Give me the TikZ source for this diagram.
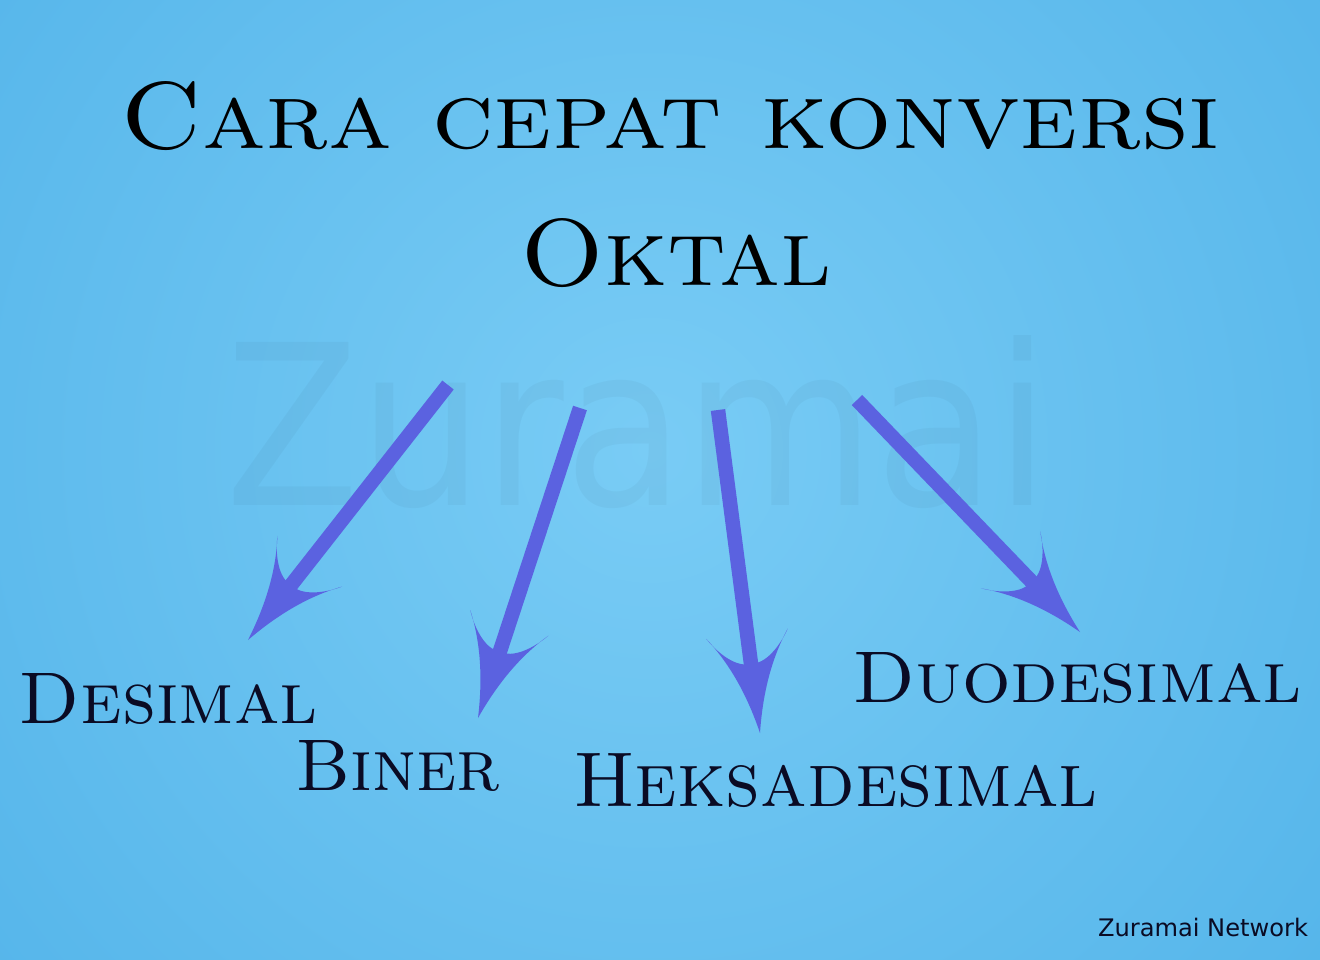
\documentclass[tikz,border=0pt]{standalone}
\usepackage{fontspec,graphicx}
\newfontfamily\netfont{DejaVu Sans}
\definecolor{bgin}{HTML}{79CCF5}
\definecolor{bgout}{HTML}{45ABE5}
\definecolor{panahbiru}{HTML}{5B62E0}
\definecolor{tinta}{HTML}{0A0B24}
\newlength\pxu
\setlength\pxu{0.1mm}
\newcommand\fitsc[3]{\resizebox{#1\pxu}{#2\pxu}{\textsc{#3}}}

\pgfdeclarearrow{
	name = Swept,
	setup code = {
		\pgfarrowssettipend{0pt}
		\pgfarrowssetlineend{-19pt}
		\pgfarrowshullpoint{0pt}{0pt}
		\pgfarrowshullpoint{-28.5pt}{11.7pt}
		\pgfarrowshullpoint{-28.5pt}{-11.7pt}
	},
	drawing code = {
		\pgfpathmoveto{\pgfqpoint{0pt}{0pt}}
		\pgfpathcurveto{\pgfqpoint{-10pt}{2pt}}{\pgfqpoint{-20pt}{5.5pt}}{\pgfqpoint{-28.5pt}{11.7pt}}
		\pgfpathcurveto{\pgfqpoint{-24pt}{9pt}}{\pgfqpoint{-19pt}{4pt}}{\pgfqpoint{-20pt}{0pt}}
		\pgfpathcurveto{\pgfqpoint{-19pt}{-4pt}}{\pgfqpoint{-24pt}{-9pt}}{\pgfqpoint{-28.5pt}{-11.7pt}}
		\pgfpathcurveto{\pgfqpoint{-20pt}{-5.5pt}}{\pgfqpoint{-10pt}{-2pt}}{\pgfqpoint{0pt}{0pt}}
		\pgfpathclose
		\pgfusepathqfill
	}
}

\tikzset{
	teks/.style={inner sep=0pt, outer sep=0pt, anchor=base west},
	judul/.style={teks, text=black},
	konv/.style={teks, text=tinta},
	panah/.style={panahbiru, line width=1.45mm, -{Swept}}
}

\begin{document}
\begin{tikzpicture}[x=0.1mm,y=-0.1mm]
		\useasboundingbox (0,0) rectangle (1320,960);
		\begin{scope}
			\clip (0,0) rectangle (1320,960);
			\shade[inner color=bgin, outer color=bgout] (650,450) circle[radius=125mm];
		\end{scope}

		\node[teks, text=black, text opacity=0.03] (wm) at (225,505) {\resizebox{825\pxu}{170\pxu}{\netfont Zuramai}};

		\node[judul] (judul1) at (120,148) {\fitsc{1100}{67}{Cara cepat konversi}};
		\node[judul] (judul2) at (520,285) {\fitsc{312}{67}{Oktal}};

		\node[konv] (des) at (19,723)	{\fitsc{299}{50}{Desimal}};
		\node[konv] (bin) at (295,790)	{\fitsc{205}{50}{Biner}};
		\node[konv] (hex) at (573,806)	{\fitsc{525}{53}{Heksadesimal}};
		\node[konv] (duo) at (852,702)	{\fitsc{450}{50}{Duodesimal}};

		\node[teks, text=tinta] (net) at (1098,936) {\resizebox{210\pxu}{!}{\netfont Zuramai Network}};

		\coordinate (a1) at (448,385);
		\coordinate (b1) at (248,640);
		\coordinate (a2) at (580,408);
		\coordinate (b2) at (478,718);
		\coordinate (a3) at (718,410);
		\coordinate (b3) at (760,733);
		\coordinate (a4) at (857,400);
		\coordinate (b4) at (1080,632);

		\draw[panah] (a1) -- (b1);
		\draw[panah] (a2) -- (b2);
		\draw[panah] (a3) -- (b3);
		\draw[panah] (a4) -- (b4);
	\end{tikzpicture}
\end{document}
